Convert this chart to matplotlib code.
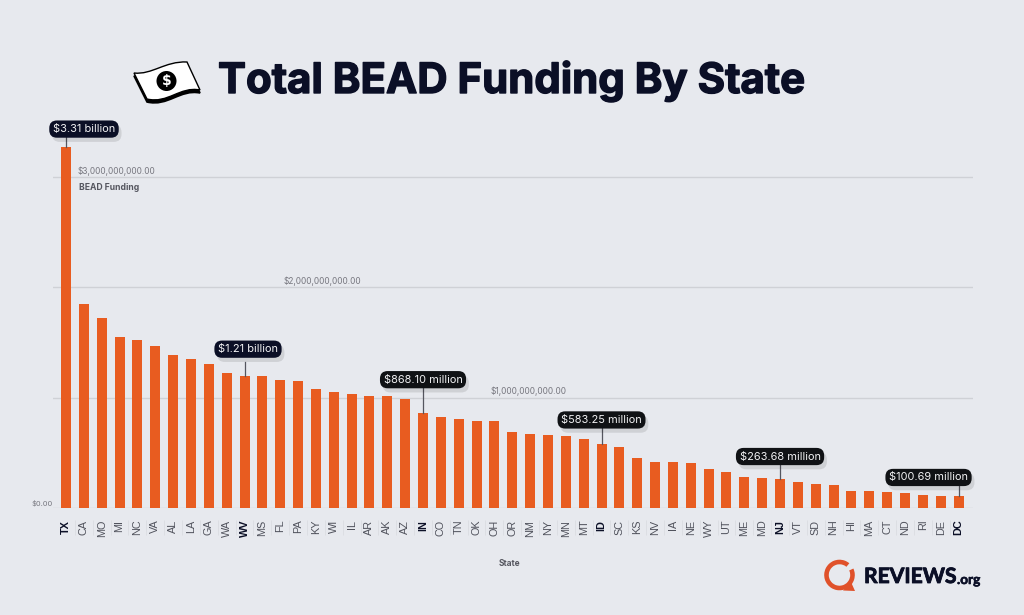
import matplotlib
matplotlib.use("Agg")
import matplotlib.pyplot as plt
import matplotlib.patheffects as pe
from matplotlib.patches import PathPatch, Circle, Wedge, Polygon
from matplotlib.path import Path

states = ["TX","CA","MO","MI","NC","VA","AL","LA","GA","WA","WV","MS","FL","PA","KY","WI","IL","AR","AK","AZ",
          "IN","CO","TN","OK","OH","OR","NM","NY","MN","MT","ID","SC","KS","NV","IA","NE","WY","UT","ME","MD",
          "NJ","VT","SD","NH","HI","MA","CT","ND","RI","DE","DC"]
funding = [3.275,1.850,1.723,1.550,1.523,1.469,1.387,1.351,1.306,1.223,1.199,1.196,1.160,1.151,1.078,1.051,1.033,1.015,1.010,0.987,
           0.863,0.824,0.806,0.787,0.785,0.688,0.669,0.660,0.651,0.624,0.579,0.551,0.451,0.415,0.415,0.406,0.347,0.320,0.279,0.270,
           0.265,0.233,0.211,0.202,0.152,0.150,0.143,0.134,0.111,0.110,0.102]
callouts = {"TX":"$3.31 billion","WV":"$1.21 billion","IN":"$868.10 million","ID":"$583.25 million",
            "NJ":"$263.68 million","DC":"$100.69 million"}
grid_vals = [1, 2, 3]
grid_labels = ["$1,000,000,000.00","$2,000,000,000.00","$3,000,000,000.00"]
grid_label_x = [23.8, 12.16, 0.62]

BG="#e7e9ee"; ORANGE="#e85c20"; NAVY="#0b0f26"; INK="#101215"; GRID="#cfd1d6"; GREY="#77777f"
FONT=["Inter","DejaVu Sans"]
plt.rcParams['font.family']=FONT

W,H=1024,615
fig=plt.figure(figsize=(W/100,H/100),dpi=100,facecolor=BG)
ax=fig.add_axes([52.7/W,1-507.7/H,(973-52.7)/W,(507.7-120)/H],facecolor="none")
ax.set_xlim(-0.745,50.81)
ax.set_ylim(0,3.521)
for s in ax.spines.values(): s.set_visible(False)
ax.axhline(0,color=GRID,lw=1,zorder=1)
for v in grid_vals:
    ax.axhline(v,color=GRID,lw=1,zorder=1)
xs=list(range(len(states)))
ax.bar(xs,funding,width=0.56,color=ORANGE,zorder=2)
ax.set_yticks([])
ax.set_xticks(xs)
ax.set_xticklabels(states,rotation=90,fontsize=7.8,color="#50525c",family=["Liberation Sans","DejaVu Sans"])
ax.tick_params(axis="x",length=0,pad=8.6)
for lab,s in zip(ax.get_xticklabels(),states):
    if s in callouts:
        lab.set_fontweight("bold"); lab.set_color(NAVY)
ax.vlines([x+0.5 for x in xs[:-1]],-0.07,-0.032,transform=ax.get_xaxis_transform(),color="#dcdee3",lw=0.7,clip_on=False)

for v,l,x in zip(grid_vals,grid_labels,grid_label_x):
    ax.annotate(l,(x,v),xytext=(0,0.8),textcoords="offset points",fontsize=6.0,color=GREY,ha="left",va="bottom")
ax.annotate("$0.00",(0,0),xycoords="axes fraction",xytext=(0.2,0.8),textcoords="offset points",fontsize=5.4,color=GREY,ha="right",va="bottom")
ax.annotate("BEAD Funding",(0.62,3),xytext=(1.5,-7),textcoords="offset points",fontsize=6.2,fontweight="bold",color="#55565f",ha="left",va="center")
fig.text(509/W,1-563/H,"State",fontsize=6,fontweight="bold",color="#55565f",ha="center",va="center")

# pill centre relative to bar top, in pixels: (dx, dy up), stem start gap in pixels
pill_off={"TX":(18,18,0),"WV":(3.5,26.5,14),"IN":(0,33,0),"ID":(0,24,0),"NJ":(0,22,0),"DC":(-30,19,0)}
for s,txt in callouts.items():
    i=states.index(s); v=funding[i]
    dx,dy,gap=pill_off[s]
    col=NAVY if "billion" in txt else INK
    t=ax.annotate(txt,(i,v),xytext=(dx*0.72,dy*0.72),textcoords="offset points",ha="center",va="center",
                  fontsize=7.9,color="#f2f2f4",zorder=6,annotation_clip=False,
                  bbox=dict(boxstyle="round,pad=0.33,rounding_size=0.7",fc=col,ec="none"))
    t.get_bbox_patch().set_path_effects([pe.SimplePatchShadow(offset=(2,-3),shadow_rgbFace="#000000",alpha=0.10),pe.Normal()])
    y0=ax.transData.transform((i,v))[1]
    stem=gap if gap else dy-4
    ax.plot([i,i],[v,ax.transData.inverted().transform((0,y0+stem))[1]],color="#55565f",lw=0.9,zorder=3,clip_on=False)

# overlay in pixel space: title decoration and logo
ov=fig.add_axes([0,0,1,1],facecolor="none")
ov.set_xlim(0,W); ov.set_ylim(H,0); ov.axis("off")
ov.text(218,81,"Total BEAD Funding By State",fontsize=30.2,fontweight="bold",color=NAVY,ha="left",va="center",
        path_effects=[pe.withStroke(linewidth=1.0,foreground=NAVY)])

def note(dy):
    c=[Path.MOVETO,Path.CURVE4,Path.CURVE4,Path.CURVE4,Path.LINETO,Path.CURVE4,Path.CURVE4,Path.CURVE4,Path.CLOSEPOLY]
    v=[(134,73+dy),(152,75+dy),(165,61+dy),(187,62+dy),(200,90+dy),(180,86+dy),(168,104+dy),(147,99+dy),(134,73+dy)]
    return Path(v,c)
ov.add_patch(PathPatch(note(3),fc="#000000",ec="#000000",lw=1.2))
ov.add_patch(PathPatch(note(0),fc="#ffffff",ec="#000000",lw=1.0))
ov.add_patch(Circle((166.5,81),10,fc="#000000",ec="none"))
ov.text(166.5,81,"$",fontsize=10,fontweight="bold",color="white",ha="center",va="center",family="DejaVu Sans")

ov.add_patch(Wedge((839.5,575),15.3,-25,310,width=4.6,fc="#e0512a",ec="none"))
ov.add_patch(Polygon([(851,582),(855,591),(843,590.5),(847,586)],fc="#e0512a",ec="none"))
ov.text(864,577,"REVIEWS",fontsize=15.2,fontweight="bold",color=NAVY,ha="left",va="center",family=["Lato","DejaVu Sans"],
        path_effects=[pe.withStroke(linewidth=0.6,foreground=NAVY)])
ov.text(957,580,".org",fontsize=9.8,fontweight="bold",color=NAVY,ha="left",va="center",family=["Lato","DejaVu Sans"],
        path_effects=[pe.withStroke(linewidth=0.4,foreground=NAVY)])

fig.savefig("out.png",dpi=100,facecolor=BG)
